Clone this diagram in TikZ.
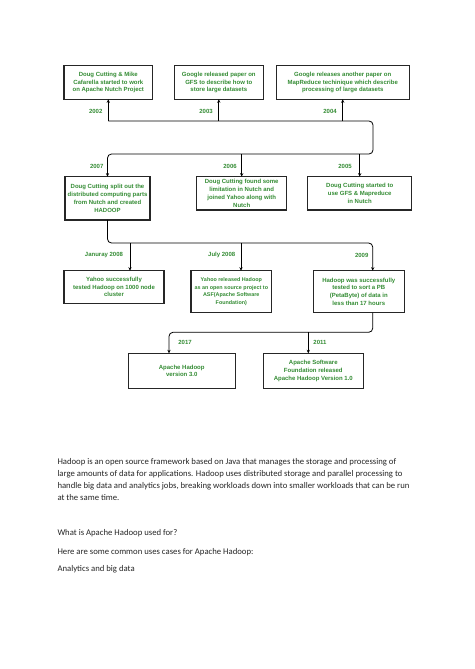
\documentclass[tikz,border=0pt]{standalone}
\usepackage{fontspec}
\setmainfont{Liberation Sans}
\newfontfamily\bodyfont{Carlito}
\usepackage{tikz}
\usetikzlibrary{arrows.meta}
\usetikzlibrary{positioning}

\definecolor{yeargreen}{RGB}{52,140,52}

\begin{document}
\begin{tikzpicture}[x=1pt,y=-1pt,
    event/.style={draw=black!85, line width=1.1pt, fill=white, align=center, inner sep=0pt, outer sep=0pt,
        font=\bfseries\fontsize{6}{7.8}\selectfont, text=yeargreen},
    year/.style={font=\bfseries\fontsize{6}{7}\selectfont, text=yeargreen, inner sep=0pt},
    link/.style={line width=0.8pt, rounded corners=4pt},
    arr/.style={link, -{Stealth[length=3.5pt,width=3.2pt]}},
    para/.style={anchor=west, inner sep=0pt, text=black!85, font=\bodyfont\fontsize{8.7}{10}\selectfont}]

                % page
                \useasboundingbox (0,0) rectangle (474,669);
                \fill[white] (0,0) rectangle (474,669);

                %2002 - 2004
                \node[event, minimum width=88.7pt, minimum height=33.6pt] (nutch) at (108.3,82.5)
                    {Doug Cutting \& Mike\\Cafarella started to work\\on Apache Nutch Project};
                \node[event, minimum width=89pt, minimum height=33.6pt] (gfspaper) at (218.8,82.5)
                    {Google released paper on\\GFS to describe how to\\store large datasets};
                \node[event, minimum width=133.3pt, minimum height=33.6pt] (mrpaper) at (342.7,82.5)
                    {Google releases another paper on\\MapReduce techinique which describe\\processing of large datasets};
                \node[year] (y2002) at (95.7,111) {2002};
                \node[year] (y2003) at (206,111) {2003};
                \node[year] (y2004) at (330,111) {2004};

                %2005 - 2007
                \node[event, minimum width=85pt, minimum height=43.3pt] (hadoop) at (107.5,198.3)
                    {Doug Cutting split out the\\distributed computing parts\\from Nutch and created\\HADOOP};
                \node[event, minimum width=90pt, minimum height=33.3pt] (yahoo) at (241.7,193.3)
                    {Doug Cutting found some\\limitation in Nutch and\\joined Yahoo along with\\Nutch};
                \node[event, minimum width=104pt, minimum height=33.3pt] (gfsuse) at (359.7,193.3)
                    {Doug Cutting started to\\use GFS \& Mapreduce\\in Nutch};
                \node[year] (y2007) at (96.7,166.7) {2007};
                \node[year] (y2006) at (230,166.7) {2006};
                \node[year] (y2005) at (345,166.7) {2005};

                %2008 - 2009
                \node[event, minimum width=100pt, minimum height=32.6pt] (test1000) at (114,287)
                    {Yahoo successfully\\tested Hadoop on 1000 node\\cluster};
                \node[event, minimum width=80.7pt, minimum height=42pt, font=\bfseries\fontsize{5.4}{7.8}\selectfont] (asf) at (231.3,291.7)
                    {Yahoo released Hadoop\\as an open source project to\\ASF(Apache Software\\Foundation)};
                \node[event, minimum width=91pt, minimum height=42pt] (sortpb) at (358.8,291.7)
                    {Hadoop was successfully\\tested to sort a PB\\(PetaByte) of data in\\less than 17 hours};
                \node[year] (yjan) at (104,255) {Januray 2008};
                \node[year] (yjul) at (221.7,255) {July 2008};
                \node[year] (y2009) at (361.7,255) {2009};

                %2011 - 2017
                \node[event, minimum width=106.7pt, minimum height=35pt] (v3) at (181.7,370.8)
                    {Apache Hadoop\\version 3.0};
                \node[event, minimum width=100pt, minimum height=35pt] (v1) at (313.3,370.8)
                    {Apache Software\\Foundation released\\Apache Hadoop Version 1.0};
                \node[year] (y2017) at (185,342.7) {2017};
                \node[year] (y2011) at (320,342.7) {2011};

                % connectors
                \coordinate (top) at (373,121);
                \coordinate (mid) at (373,154);
                \draw[arr] (nutch.south |- top) -- (top) -- (mid) -| (hadoop.north);
                \draw[arr] (nutch.south |- top) -- (nutch.south);
                \draw[arr] (gfspaper.south |- top) -- (gfspaper.south);
                \draw[arr] (mrpaper.south |- top) -- (mrpaper.south);
                \draw[arr] (yahoo.north |- mid) -- (yahoo.north);
                \draw[arr] (gfsuse.north |- mid) -- (gfsuse.north);

                \coordinate (low) at (372.7,243);
                \coordinate (lowd) at (130,243);
                \coordinate (lowe) at (241,243);
                \draw[arr] (hadoop.south) |- (low) -- (low |- sortpb.north);
                \draw[arr] (lowd) -- (lowd |- test1000.north);
                \draw[arr] (lowe) -- (lowe |- asf.north);

                \coordinate (last) at (169,332.3);
                \coordinate (lasth) at (308.3,332.3);
                \draw[arr] (low |- sortpb.south) |- (last) -- (last |- v3.north);
                \draw[arr] (lasth) -- (lasth |- v1.north);

                % text below
                \node[para] (p1) at (57.3,462.7) {Hadoop is an open source framework based on Java that manages the storage and processing of};
                \node[para] (p2) at (57.3,474.3) {large amounts of data for applications. Hadoop uses distributed storage and parallel processing to};
                \node[para] (p3) at (57.3,486) {handle big data and analytics jobs, breaking workloads down into smaller workloads that can be run};
                \node[para] (p4) at (57.3,497.7) {at the same time.};
                \node[para] (q1) at (57.3,533.3) {What is Apache Hadoop used for?};
                \node[para] (q2) at (57.3,551.7) {Here are some common uses cases for Apache Hadoop:};
                \node[para] (q3) at (57.3,569) {Analytics and big data};

            \end{tikzpicture}
\end{document}
